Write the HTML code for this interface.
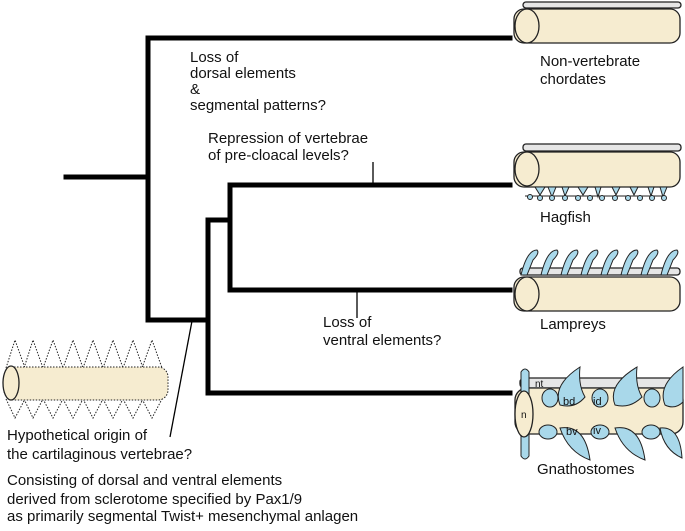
<!DOCTYPE html>
<html><head><meta charset="utf-8"><style>
html,body{margin:0;padding:0;background:#fff}
svg{display:block}
text{font-family:"Liberation Sans",Arial,sans-serif;font-size:15px;fill:#111}
</style></head><body>
<svg width="685" height="531" viewBox="0 0 685 531" xmlns="http://www.w3.org/2000/svg">
<g stroke="#000" stroke-width="5" fill="none" stroke-linecap="square">
<path d="M66 177H148M148 38V320M148 38H510M148 320H208M208 220V393M208 393H510M208 220H230M230 185V290M230 185H510M230 290H510"/>
</g>
<g stroke="#000" stroke-width="1.3">
<line x1="373" y1="162" x2="373" y2="185"/>
<line x1="357" y1="290" x2="357" y2="318"/>
<line x1="192" y1="321" x2="170" y2="437"/>
</g>
<text x="190" y="62">Loss of</text>
<text x="190" y="78">dorsal elements</text>
<text x="190" y="94">&amp;</text>
<text x="190" y="110">segmental patterns?</text>
<text x="208" y="143">Repression of vertebrae</text>
<text x="208" y="160">of pre-cloacal levels?</text>
<text x="323" y="327">Loss of</text>
<text x="323" y="345">ventral elements?</text>
<text x="7" y="440">Hypothetical origin of</text>
<text x="7" y="459">the cartilaginous vertebrae?</text>
<text x="7" y="485">Consisting of dorsal and ventral elements</text>
<text x="7" y="504">derived from sclerotome specified by Pax1/9</text>
<text x="7" y="521">as primarily segmental Twist+ mesenchymal anlagen</text>
<text x="540" y="66">Non-vertebrate</text>
<text x="540" y="84">chordates</text>
<text x="540" y="222">Hagfish</text>
<text x="540" y="329">Lampreys</text>
<text x="537" y="474">Gnathostomes</text>

<g stroke="#222" stroke-width="1.3">
<rect x="523" y="2" width="158" height="6" rx="3" fill="#e6e6e6"/>
<rect x="514" y="9" width="166" height="34" rx="10" fill="#f6ecd0"/>
<ellipse cx="527" cy="26" rx="12" ry="17" fill="#f6ecd0"/>
<rect x="523" y="144" width="158" height="7" rx="3" fill="#e6e6e6"/>
<rect x="514" y="152" width="166" height="35" rx="10" fill="#f6ecd0"/>
<ellipse cx="527" cy="169" rx="12" ry="17" fill="#f6ecd0"/>
<g fill="#a9d8ea" stroke-width="1">
<path d="M535 187l5 8 5-8zM548 187l4 10 4-10zM562 187l3 9 4-9zM578 187l5 8 5-8zM595 187l3 10 3-10zM612 187l4 8 4-8zM630 187l4 8 4-8zM648 187l3 9 3-9zM660 187l3 10 4-10z"/>
<path d="M525 196h140" fill="none"/>
<circle cx="530" cy="197" r="2.5"/><circle cx="540" cy="198" r="2.5"/><circle cx="552" cy="198" r="2.5"/><circle cx="565" cy="198" r="2.5"/><circle cx="578" cy="198" r="2.5"/><circle cx="590" cy="198" r="2.5"/><circle cx="602" cy="198" r="2.5"/><circle cx="615" cy="198" r="2.5"/><circle cx="628" cy="198" r="2.5"/><circle cx="640" cy="198" r="2.5"/><circle cx="652" cy="198" r="2.5"/><circle cx="664" cy="198" r="2.5"/>
</g>
<rect x="520" y="268" width="160" height="7" rx="3" fill="#e6e6e6"/>
<rect x="514" y="277" width="166" height="34" rx="10" fill="#f6ecd0"/>
<ellipse cx="527" cy="294" rx="12" ry="17" fill="#f6ecd0"/>
<g fill="#a9d8ea" stroke-width="1">
<path d="M521 275q6-25 16-25q3 3-4 10l-6 15z"/>
<path d="M541 275q6-25 16-25q3 3-4 10l-6 15z"/>
<path d="M561 275q6-25 16-25q3 3-4 10l-6 15z"/>
<path d="M581 275q6-25 16-25q3 3-4 10l-6 15z"/>
<path d="M601 275q6-25 16-25q3 3-4 10l-6 15z"/>
<path d="M621 275q6-25 16-25q3 3-4 10l-6 15z"/>
<path d="M641 275q6-25 16-25q3 3-4 10l-6 15z"/>
<path d="M661 275q6-25 16-25q3 3-4 10l-6 15z"/>
</g>
<rect x="520" y="378" width="160" height="10" rx="4" fill="#e6e6e6"/>
<rect x="515" y="388" width="168" height="46" rx="12" fill="#f6ecd0"/>
<g fill="#a9d8ea" stroke-width="1">
<path d="M521 372q4-6 8 0v84q-4 6-8 0z"/>
<path d="M560 405q-8-20 20-38q-2 18 5 30q-10 12-25 8z"/>
<path d="M615 405q-8-20 22-38q-2 18 5 30q-12 12-27 8z"/>
<path d="M665 405q-8-20 18-38v35q-8 8-18 3z"/>
<ellipse cx="550" cy="398" rx="8" ry="9"/><ellipse cx="600" cy="398" rx="8" ry="9"/><ellipse cx="652" cy="398" rx="8" ry="9"/>
<path d="M560 428q25-4 30 32q-22-8-30-32z"/>
<path d="M615 428q25-4 30 32q-22-8-30-32z"/>
<path d="M660 428q20-2 22 30q-18-8-22-30z"/>
<ellipse cx="548" cy="432" rx="9" ry="7"/><ellipse cx="600" cy="432" rx="9" ry="7"/><ellipse cx="651" cy="432" rx="9" ry="7"/>
</g>
<ellipse cx="524" cy="414" rx="9" ry="23" fill="#f6ecd0"/>
</g>
<text x="521" y="418" style="font-size:10px">n</text>
<text x="563" y="405" style="font-size:11px">bd</text><text x="593" y="405" style="font-size:11px">id</text>
<text x="566" y="435" style="font-size:11px">bv</text><text x="593" y="434" style="font-size:11px">iv</text>
<text x="535" y="387" style="font-size:10px">nt</text>

<!-- hypothetical -->
<g stroke="#222" stroke-width="1" stroke-dasharray="1.5 1.5" fill="none">
<path d="M6 368L15 340L25 368M24 368L33 340L43 368M43 368L53 340L63 368M63 368L73 340L83 368M83 368L93 340L103 368M103 368L113 340L123 368M123 368L133 340L143 368M142 368L152 340L162 368"/>
<path d="M6 399L15 418L25 399M24 399L33 418L43 399M43 399L53 418L63 399M63 399L73 418L83 399M83 399L93 418L103 399M103 399L113 418L123 399M123 399L133 418L143 399M142 399L152 418L162 399"/>
</g>
<rect x="4" y="367" width="164" height="33" rx="10" fill="#f6ecd0" stroke="#222" stroke-width="1" stroke-dasharray="1.5 1.5"/>
<ellipse cx="11" cy="383" rx="8" ry="17" fill="#f6ecd0" stroke="#222" stroke-width="1.3"/>
</svg>
</body></html>
